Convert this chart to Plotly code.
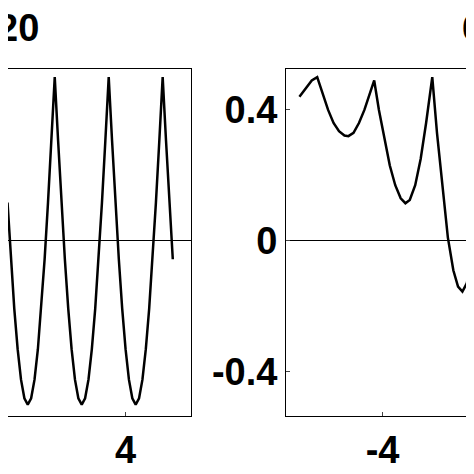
import plotly.graph_objects as go

# left panel (periodic cusp-topped wave)
LEFT_X = [0.5, 0.6, 0.7, 0.8, 0.9, 1.0, 1.1, 1.2, 1.3, 1.4, 1.5, 1.6, 1.7, 1.8, 1.9,
          2.0, 2.1, 2.2, 2.3, 2.4, 2.5, 2.6, 2.7, 2.8, 2.9, 3.0, 3.1, 3.2, 3.3, 3.4, 3.5,
          3.6, 3.7, 3.8, 3.9, 4.0, 4.1, 4.2, 4.3, 4.4, 4.5, 4.6, 4.7, 4.8, 4.9, 5.0, 5.1,
          5.2, 5.3, 5.4]
LEFT_Y = [0.117, -0.056, -0.207, -0.331, -0.424, -0.481, -0.5, -0.481, -0.424, -0.331,
          -0.207, -0.056, 0.117, 0.305, 0.5,
          0.305, 0.117, -0.056, -0.207, -0.331, -0.424, -0.481, -0.5, -0.481, -0.424,
          -0.331, -0.207, -0.056, 0.117, 0.305, 0.5,
          0.305, 0.117, -0.056, -0.207, -0.331, -0.424, -0.481, -0.5, -0.481, -0.424,
          -0.331, -0.207, -0.056, 0.117, 0.305, 0.5,
          0.305, 0.117, -0.056]

# right panel
RIGHT_X = [-6.29, -6.1, -5.95, -5.8, -5.65, -5.5, -5.35, -5.2, -5.05, -4.94, -4.8, -4.65,
           -4.5, -4.35, -4.23, -4.1, -3.95, -3.8, -3.65, -3.5, -3.37, -3.25, -3.1, -2.95,
           -2.8, -2.63, -2.5, -2.35, -2.2, -2.05, -1.92, -1.8, -1.68, -1.55, -1.42, -1.26]
RIGHT_Y = [0.44, 0.47, 0.49, 0.50, 0.45, 0.40, 0.36, 0.335, 0.322, 0.32, 0.33, 0.36,
           0.40, 0.45, 0.49, 0.40, 0.31, 0.23, 0.17, 0.13, 0.115, 0.125, 0.17, 0.25,
           0.36, 0.50, 0.33, 0.16, 0.01, -0.09, -0.14, -0.155, -0.13, -0.06, 0.04, 0.16]

X_TICKS = [-8, -4, 0, 4, 8]
X_TICK_TEXT = ["<b>-8</b>", "<b>-4</b>", "<b>0</b>", "<b>4</b>", "<b>8</b>"]
Y_TICKS = [-0.4, 0, 0.4]
Y_TICK_TEXT = ["<b>-0.4</b>", "<b>0</b>", "<b>0.4</b>"]

FONT = "Liberation Sans"
W = 474
top, bottom = 1 - 61 / W, 1 - 408 / W

fig = go.Figure()
line = dict(color="black", width=2.5)
fig.add_trace(go.Scatter(x=LEFT_X, y=LEFT_Y, mode="lines", line=line,
                         xaxis="x", yaxis="y", showlegend=False))
fig.add_trace(go.Scatter(x=RIGHT_X, y=RIGHT_Y, mode="lines", line=line,
                         xaxis="x2", yaxis="y2", showlegend=False))

tickfont = dict(family=FONT, size=38, color="black")
common_x = dict(showgrid=False, zeroline=False, showline=True, mirror=True,
                linecolor="black", linewidth=1, tickfont=tickfont,
                ticks="inside", ticklen=4, tickvals=X_TICKS, ticktext=X_TICK_TEXT)
fig.update_layout(
    width=W, height=W, margin=dict(l=0, r=0, t=0, b=0),
    plot_bgcolor="white", paper_bgcolor="white",
    xaxis=dict(domain=[0, 183 / W], range=[0.514, 5.94], anchor="y", **common_x),
    yaxis=dict(domain=[bottom, top], range=[-0.535, 0.525], side="right",
               showline=True, linecolor="black", linewidth=1, showgrid=False,
               zeroline=True, zerolinecolor="black", zerolinewidth=1,
               showticklabels=False, anchor="x"),
    xaxis2=dict(domain=[278 / W, 1], range=[-6.66, -1.26], anchor="y2", **common_x),
    yaxis2=dict(domain=[bottom, top], range=[-0.535, 0.525], anchor="x2",
                showline=True, linecolor="black", linewidth=1, showgrid=False,
                zeroline=True, zerolinecolor="black", zerolinewidth=1,
                tickvals=Y_TICKS, ticktext=Y_TICK_TEXT, tickfont=tickfont,
                ticks="inside", ticklen=4),
    annotations=[
        dict(text="<b>20</b>", x=33 / W, y=1 - 20 / W, xref="paper", yref="paper",
             xanchor="right", yanchor="middle", showarrow=False,
             font=dict(family=FONT, size=38, color="black")),
        dict(text="<b>6</b>", x=452 / W, y=1 - 20 / W, xref="paper", yref="paper",
             xanchor="left", yanchor="middle", showarrow=False,
             font=dict(family=FONT, size=38, color="black")),
    ],
)

fig.write_html("out.html")
